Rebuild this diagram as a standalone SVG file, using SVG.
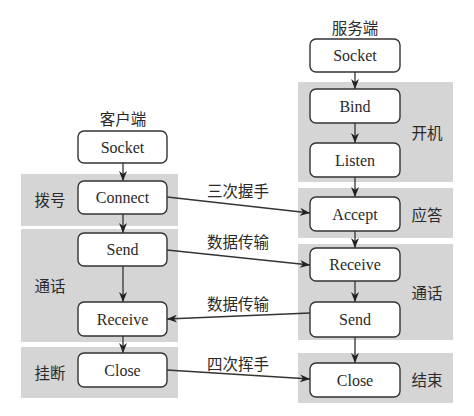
<svg xmlns="http://www.w3.org/2000/svg" width="474" height="416" viewBox="0 0 474 416">
<style>
.band{fill:#d5d5d5}
.node rect{fill:#fff;stroke:#333;stroke-width:1.4}
text{font-family:"Liberation Serif","Noto Sans CJK SC",serif;font-size:16px;fill:#2a2a2a;text-anchor:middle;dominant-baseline:central}
.cn{font-size:15.5px}
.conn line{stroke:#333;stroke-width:1.3;marker-end:url(#ah)}
</style>
<defs>
<marker id="ah" viewBox="0 0 10 8" refX="10" refY="4" markerWidth="10" markerHeight="8" markerUnits="userSpaceOnUse" orient="auto">
<path d="M0,0 L10,4 L0,8 L3,4 z" fill="#222"/>
</marker>
</defs>
<rect width="474" height="416" fill="#fff"/>
<g id="bands">
<rect class="band" x="21" y="174" width="157" height="52"/>
<rect class="band" x="21" y="229" width="157" height="113"/>
<rect class="band" x="21" y="347" width="157" height="51"/>
<rect class="band" x="298" y="82" width="155" height="100"/>
<rect class="band" x="298" y="188" width="155" height="50"/>
<rect class="band" x="298" y="244" width="155" height="96"/>
<rect class="band" x="298" y="353" width="155" height="50"/>
</g>
<g id="labels">
<text class="cn" x="123" y="119">客户端</text>
<text class="cn" x="355" y="28">服务端</text>
<text class="cn" x="50" y="200">拨号</text>
<text class="cn" x="50" y="286">通话</text>
<text class="cn" x="50" y="373">挂断</text>
<text class="cn" x="427" y="133">开机</text>
<text class="cn" x="427" y="215">应答</text>
<text class="cn" x="427" y="293">通话</text>
<text class="cn" x="427" y="380">结束</text>
<text class="cn" x="238" y="191">三次握手</text>
<text class="cn" x="238" y="242">数据传输</text>
<text class="cn" x="238" y="304">数据传输</text>
<text class="cn" x="238" y="364">四次挥手</text>
</g>
<g id="connectors" class="conn">
<line x1="123" y1="163" x2="123" y2="181"/>
<line x1="123" y1="214" x2="123" y2="233"/>
<line x1="123" y1="266" x2="123" y2="302"/>
<line x1="123" y1="336" x2="123" y2="353"/>
<line x1="355" y1="72" x2="355" y2="89"/>
<line x1="355" y1="123" x2="355" y2="143"/>
<line x1="355" y1="177" x2="355" y2="197"/>
<line x1="355" y1="231" x2="355" y2="248"/>
<line x1="355" y1="281" x2="355" y2="302"/>
<line x1="355" y1="337" x2="355" y2="363"/>
<line x1="167" y1="197" x2="310" y2="213"/>
<line x1="167" y1="250" x2="310" y2="265"/>
<line x1="310" y1="313" x2="167" y2="319"/>
<line x1="167" y1="370" x2="310" y2="379"/>
</g>
<g id="c-socket" class="node"><rect x="78" y="131" width="89" height="32" rx="6"/><text x="122.5" y="147">Socket</text></g>
<g id="c-connect" class="node"><rect x="78" y="181" width="89" height="33" rx="6"/><text x="122.5" y="197.5">Connect</text></g>
<g id="c-send" class="node"><rect x="78" y="233" width="89" height="33" rx="6"/><text x="122.5" y="249.5">Send</text></g>
<g id="c-receive" class="node"><rect x="78" y="302" width="89" height="34" rx="6"/><text x="122.5" y="319">Receive</text></g>
<g id="c-close" class="node"><rect x="78" y="353" width="89" height="34" rx="6"/><text x="122.5" y="370">Close</text></g>
<g id="s-socket" class="node"><rect x="310" y="39" width="90" height="33" rx="6"/><text x="355" y="55.5">Socket</text></g>
<g id="s-bind" class="node"><rect x="310" y="89" width="90" height="34" rx="6"/><text x="355" y="106">Bind</text></g>
<g id="s-listen" class="node"><rect x="310" y="143" width="90" height="34" rx="6"/><text x="355" y="160">Listen</text></g>
<g id="s-accept" class="node"><rect x="310" y="197" width="90" height="34" rx="6"/><text x="355" y="214">Accept</text></g>
<g id="s-receive" class="node"><rect x="310" y="248" width="90" height="33" rx="6"/><text x="355" y="264.5">Receive</text></g>
<g id="s-send" class="node"><rect x="310" y="302" width="90" height="35" rx="6"/><text x="355" y="319.5">Send</text></g>
<g id="s-close" class="node"><rect x="310" y="363" width="90" height="34" rx="6"/><text x="355" y="380">Close</text></g>
</svg>
